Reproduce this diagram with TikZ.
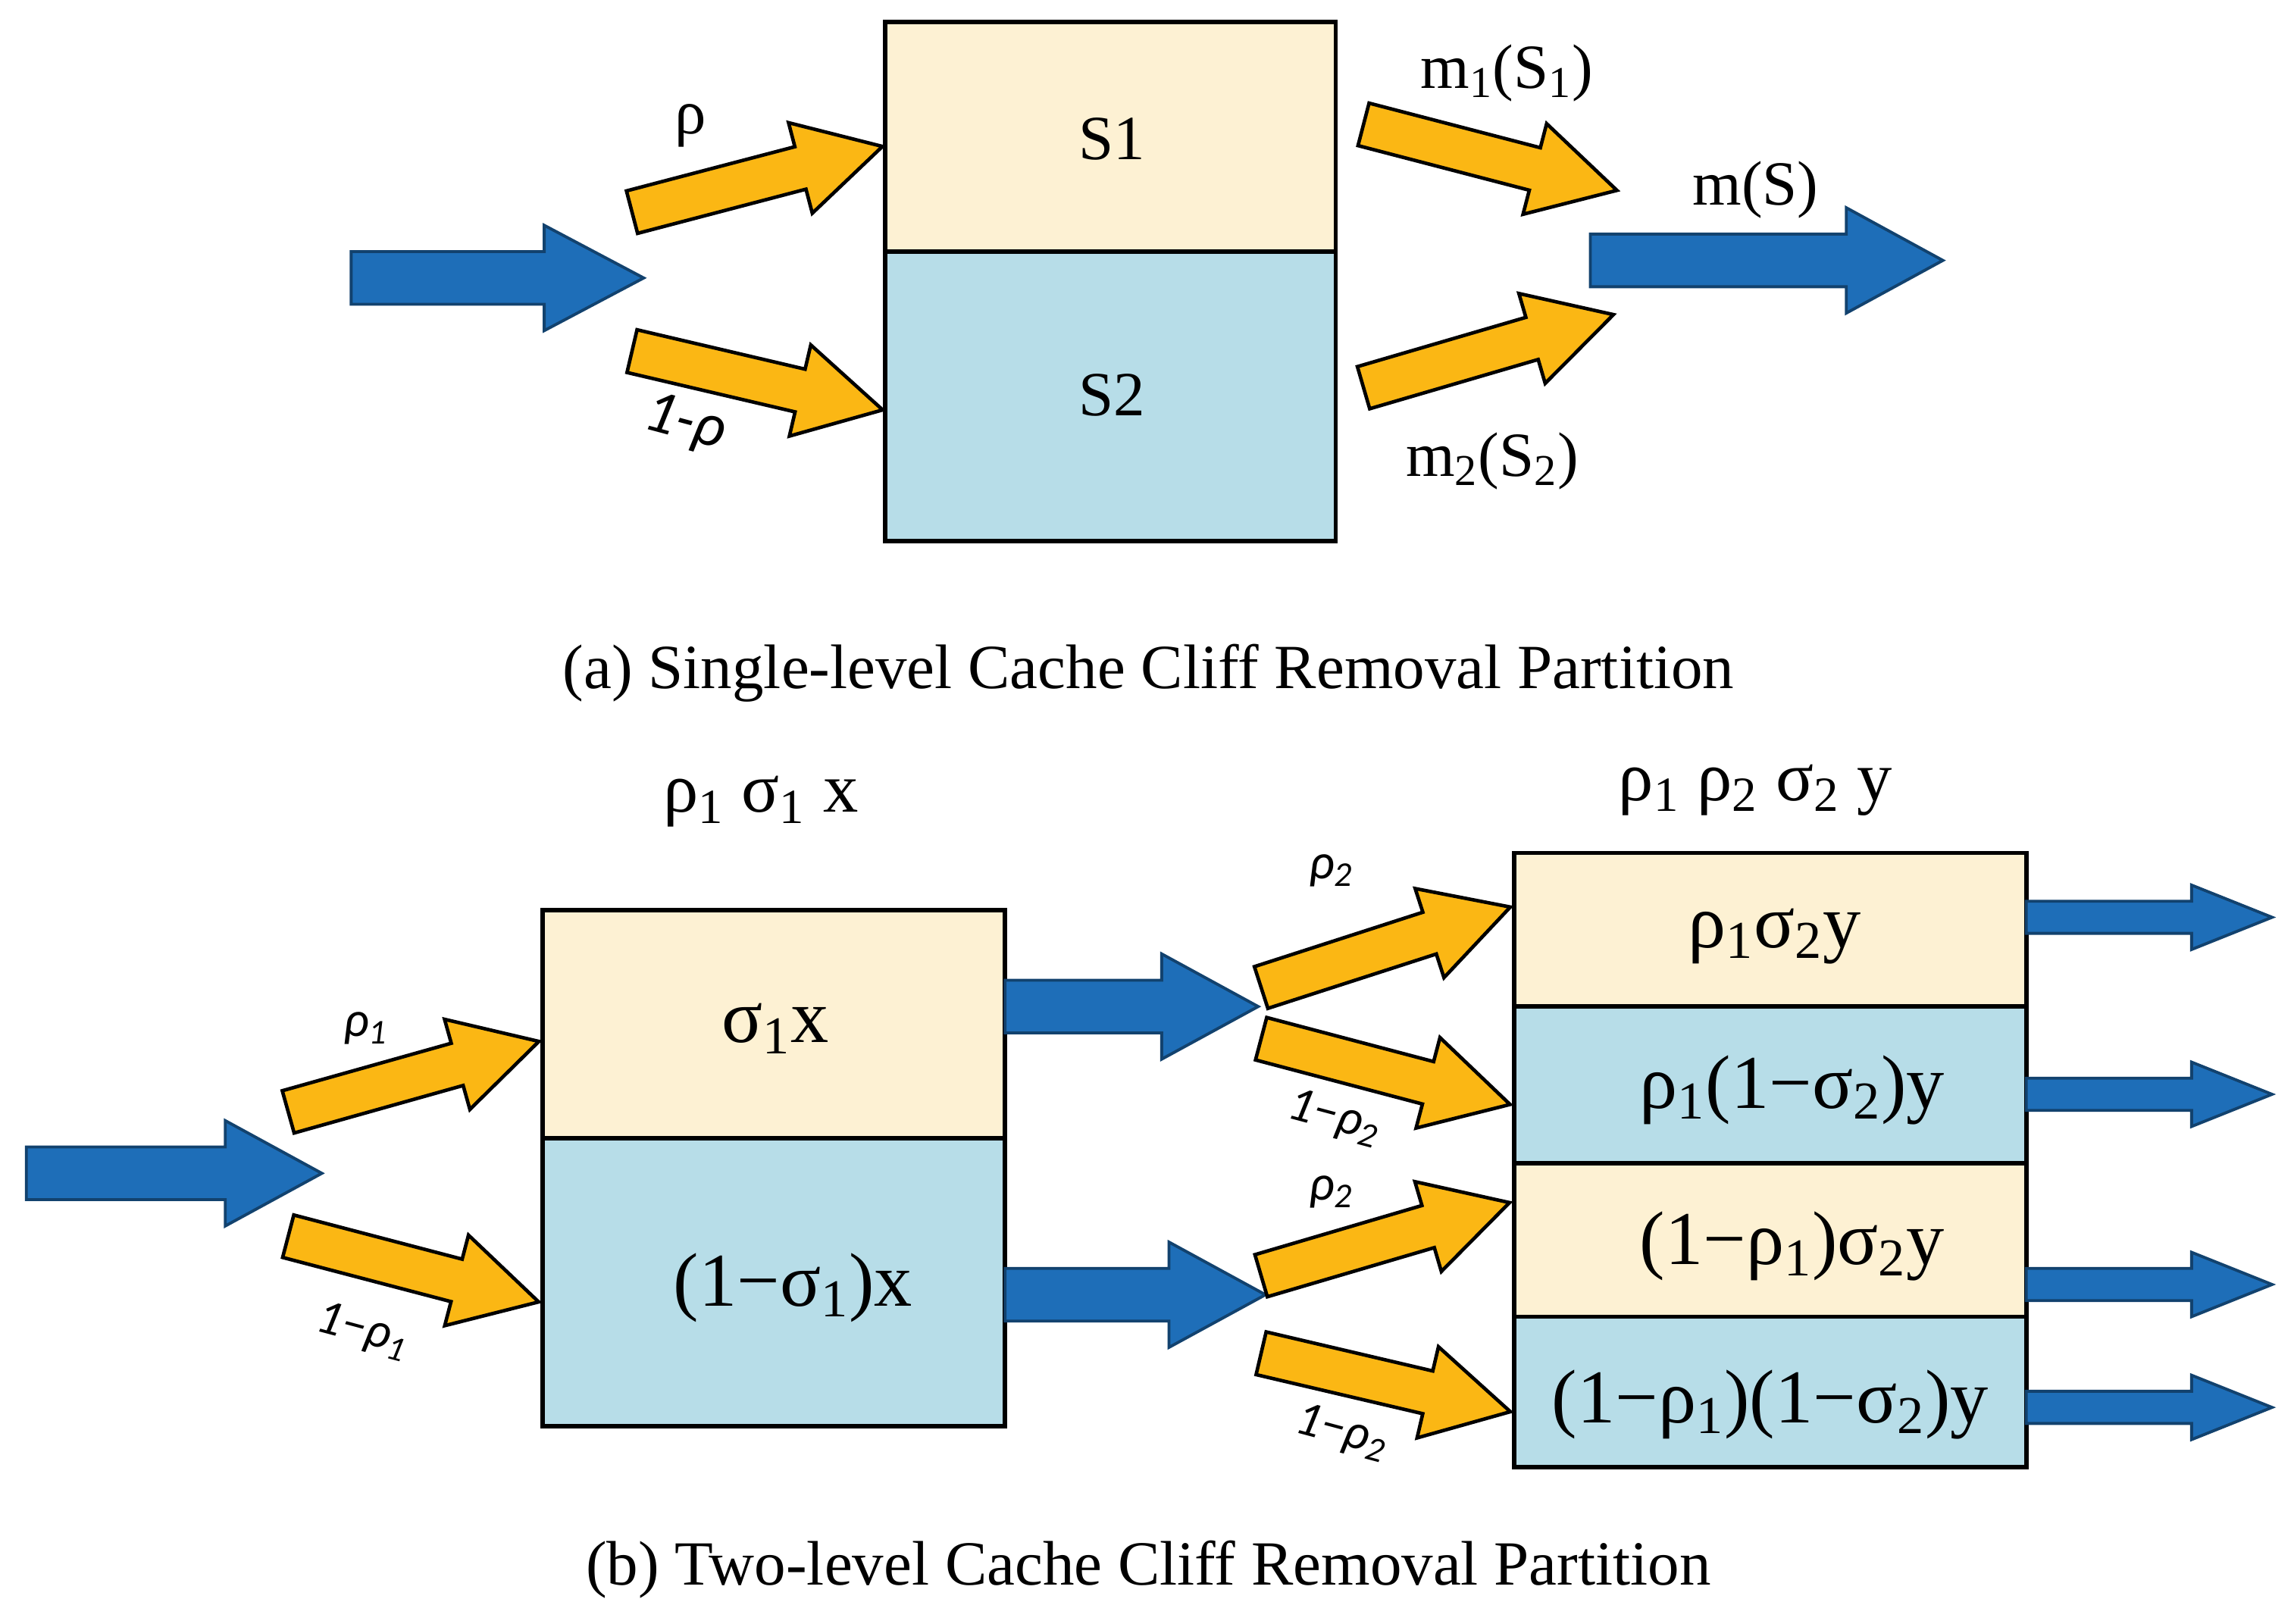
\documentclass[tikz,border=0pt]{standalone}
\usepackage{fontspec}
\setmainfont{Liberation Serif}
\newfontfamily\carfont{Carlito}
\definecolor{ylw}{HTML}{FBB714}
\definecolor{blu}{HTML}{1E6EB8}
\definecolor{beige}{HTML}{FDF1D3}
\definecolor{lblue}{HTML}{B7DDE8}
\newcommand\farr[7]{\begin{scope}[shift={(#2)},rotate=#3]
\draw[#1] (0,-#5)--(#4-#7,-#5)--(#4-#7,-#6)--(#4,0)--(#4-#7,#6)--(#4-#7,#5)--(0,#5)--cycle;\end{scope}}
\begin{document}
\begin{tikzpicture}[x=0.5pt,y=-0.5pt,
 ya/.style={fill=ylw,draw=black,line width=1.2pt,line join=miter},
 ba/.style={fill=blu,draw=blu!60!black,line width=1pt},
 bx/.style={draw=black,line width=1.5pt},
 lb/.style={font=\fontsize{21.5}{24}\selectfont},
 tl/.style={font=\fontsize{24}{28}\selectfont},
 bt/.style={font=\fontsize{26}{30}\selectfont},
 sm/.style={font=\carfont\itshape\fontsize{17}{20}\selectfont}]
\useasboundingbox (0,0) rectangle (1568,1110);
% (a)
\draw[bx,fill=beige] (605,15) rectangle (913,172);
\draw[bx,fill=lblue] (605,172) rectangle (913,370);
\node[lb] (s1) at (760,95) {S1};
\node[lb] (s2) at (760,270) {S2};
\farr{ba}{240,190}{0}{200}{18}{36}{68}
\farr{ya}{432,145}{14.7}{177}{15}{32}{58}
\farr{ya}{432,240}{-13.2}{176}{15}{32}{58}
\farr{ya}{932,85}{-14.6}{179}{15}{32}{58}
\farr{ya}{932,265}{16.3}{178}{15}{32}{58}
\farr{ba}{1087,178}{0}{241}{18}{36}{66}
\node[lb] (r) at (472,86) {ρ};
\node[font=\carfont\itshape\fontsize{21}{24}\selectfont,rotate=-15] (r1) at (468,290) {1-ρ};
\node[lb] (m1) at (1030,50) {m\textsubscript{1}(S\textsubscript{1})};
\node[lb] (m) at (1200,130) {m(S)};
\node[lb] (m2) at (1020,315) {m\textsubscript{2}(S\textsubscript{2})};
\node[lb] (ca) at (785,460) {(a) Single-level Cache Cliff Removal Partition};
% (b)
\node[tl] (t1) at (520,548) {ρ\textsubscript{1} σ\textsubscript{1} x};
\node[tl] (t2) at (1200,540) {ρ\textsubscript{1} ρ\textsubscript{2} σ\textsubscript{2} y};
\draw[bx,fill=beige] (371,622) rectangle (687,778);
\draw[bx,fill=lblue] (371,778) rectangle (687,975);
\node[bt] (b1) at (530,703) {σ\textsubscript{1}x};
\node[bt] (b2) at (542,880) {(1−σ\textsubscript{1})x};
\farr{ba}{18,802}{0}{202}{18}{36}{66}
\farr{ya}{197,760}{15.7}{178}{15}{32}{58}
\farr{ya}{197,845}{-14.7}{177}{15}{32}{58}
\node[sm] (p1) at (250,703) {ρ\textsubscript{1}};
\node[sm,rotate=-15] (p1b) at (248,910) {1−ρ\textsubscript{1}};
\farr{ba}{687,688}{0}{173}{18}{36}{66}
\farr{ba}{687,885}{0}{178}{18}{36}{66}
\draw[bx,fill=beige] (1035,583) rectangle (1385,688);
\draw[bx,fill=lblue] (1035,688) rectangle (1385,795);
\draw[bx,fill=beige] (1035,795) rectangle (1385,900);
\draw[bx,fill=lblue] (1035,900) rectangle (1385,1003);
\node[bt] (c1) at (1213,640) {ρ\textsubscript{1}σ\textsubscript{2}y};
\node[bt] (c2) at (1225,745) {ρ\textsubscript{1}(1−σ\textsubscript{2})y};
\node[bt] (c3) at (1225,852) {(1−ρ\textsubscript{1})σ\textsubscript{2}y};
\node[bt] (c4) at (1210,960) {(1−ρ\textsubscript{1})(1−σ\textsubscript{2})y};
\farr{ya}{862,675}{17.9}{179}{15}{32}{58}
\farr{ya}{862,710}{-14.8}{176}{15}{32}{58}
\farr{ya}{862,872}{16.4}{177}{15}{32}{58}
\farr{ya}{862,925}{-13.2}{175}{15}{32}{58}
\node[sm] (q1) at (910,595) {ρ\textsubscript{2}};
\node[sm,rotate=-15] (q2) at (912,764) {1−ρ\textsubscript{2}};
\node[sm] (q3) at (910,815) {ρ\textsubscript{2}};
\node[sm,rotate=-15] (q4) at (917,979) {1−ρ\textsubscript{2}};
\farr{ba}{1385,627}{0}{168}{11}{22}{55}
\farr{ba}{1385,748}{0}{168}{11}{22}{55}
\farr{ba}{1385,878}{0}{168}{11}{22}{55}
\farr{ba}{1385,962}{0}{168}{11}{22}{55}
\node[lb] (cb) at (785,1073) {(b) Two-level Cache Cliff Removal Partition};
\end{tikzpicture}
\end{document}
